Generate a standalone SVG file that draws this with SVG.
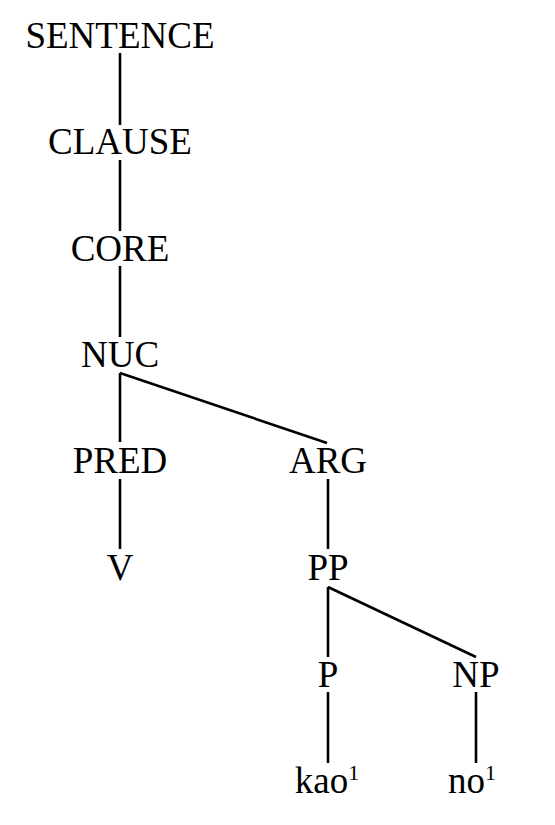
<svg xmlns="http://www.w3.org/2000/svg" width="555" height="825" viewBox="0 0 555 825">
<style>
text{font-family:"Liberation Serif","Times New Roman",serif;font-size:37px;fill:#000;text-anchor:middle}
.sup{font-size:22px}
#edges line{stroke:#000;stroke-width:2.6;stroke-linecap:butt}
</style>
<rect width="555" height="825" fill="#fff"/>
<g id="edges">
<line x1="120" y1="53" x2="120" y2="125"/>
<line x1="120" y1="160" x2="120" y2="231"/>
<line x1="120" y1="266" x2="120" y2="337"/>
<line x1="120" y1="373" x2="120" y2="442"/>
<line x1="120" y1="373" x2="327" y2="443"/>
<line x1="120" y1="479" x2="120" y2="549"/>
<line x1="328" y1="479" x2="328" y2="549"/>
<line x1="328" y1="587" x2="328" y2="657"/>
<line x1="328" y1="587" x2="476" y2="657"/>
<line x1="328" y1="692" x2="328" y2="763"/>
<line x1="476" y1="692" x2="476" y2="763"/>
</g>
<g id="sentence"><text x="120" y="48">SENTENCE</text></g>
<g id="clause"><text x="120" y="154">CLAUSE</text></g>
<g id="core"><text x="120" y="261">CORE</text></g>
<g id="nuc"><text x="120" y="367">NUC</text></g>
<g id="pred"><text x="120" y="473">PRED</text></g>
<g id="arg"><text x="328" y="473">ARG</text></g>
<g id="v"><text x="120" y="580">V</text></g>
<g id="pp"><text x="328" y="580">PP</text></g>
<g id="p"><text x="328" y="687">P</text></g>
<g id="np"><text x="476" y="687">NP</text></g>
<g id="kao"><text x="327" y="793">kao<tspan class="sup" dy="-13">1</tspan></text></g>
<g id="no"><text x="472" y="793">no<tspan class="sup" dy="-13">1</tspan></text></g>
</svg>
